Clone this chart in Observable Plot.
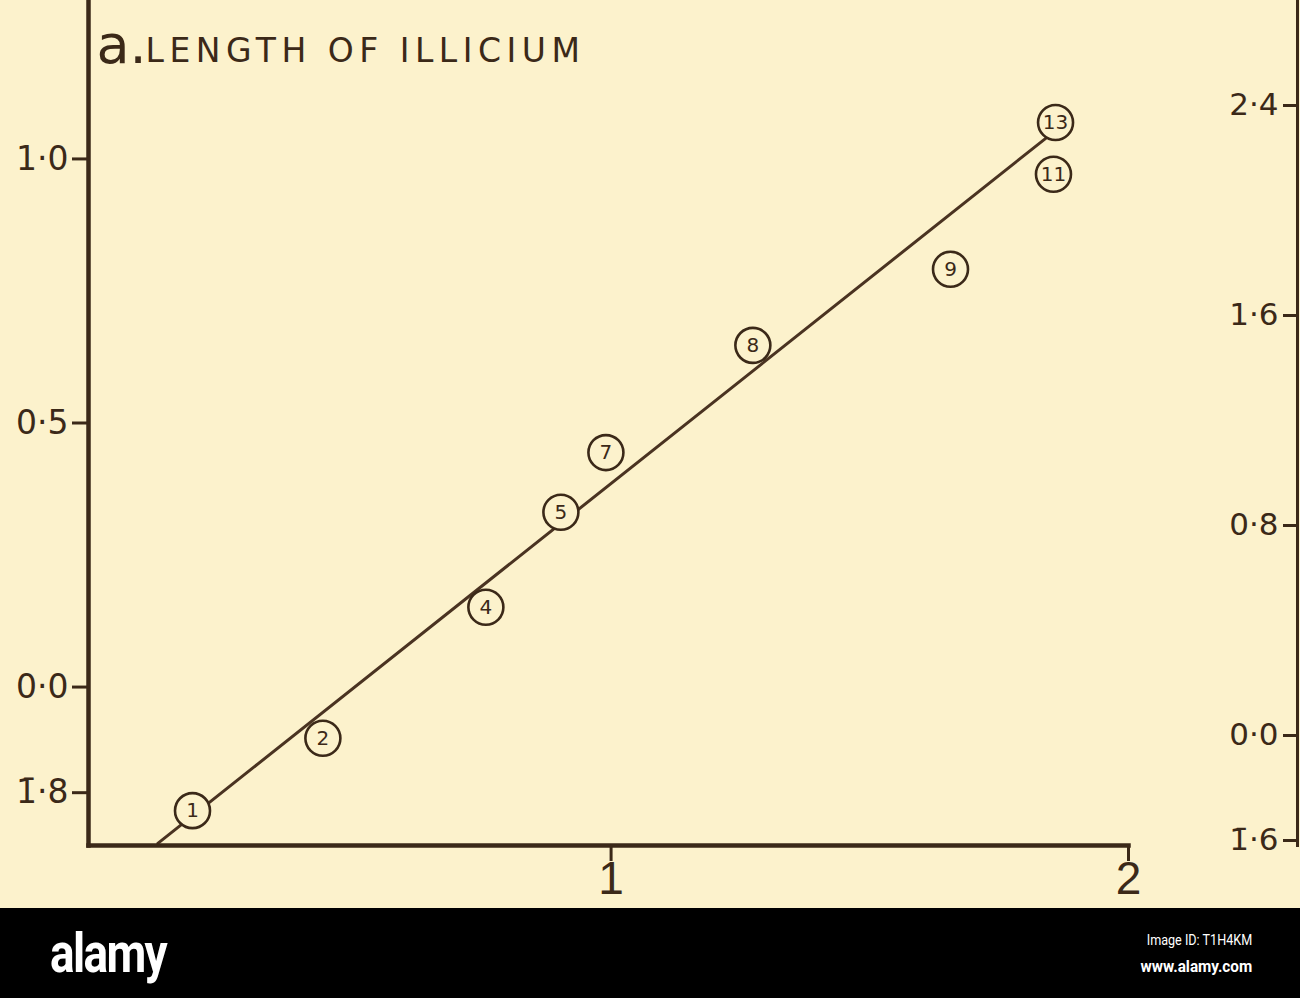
<!DOCTYPE html>
<html><head><meta charset="utf-8">
<script src="https://cdn.jsdelivr.net/npm/d3@7"></script>
<script src="https://cdn.jsdelivr.net/npm/@observablehq/plot@0.6"></script>
<style>
html,body{margin:0;padding:0;background:#fcf2cc;}
#wrap{display:flex;width:1300px;height:908px;overflow:hidden;background:#fcf2cc;}
#footer{width:1300px;height:90px;background:#000;position:relative;color:#fff;}
#logo{position:absolute;left:50px;top:12px;font:bold 56px "Roboto","Open Sans",sans-serif;letter-spacing:-2px;transform:scaleX(0.82);transform-origin:left top;}
#imgid{position:absolute;right:48px;top:24px;font:14px "Roboto","Open Sans",sans-serif;transform:scaleX(0.9);transform-origin:right top;}
#url{position:absolute;right:48px;top:48px;font:bold 17px "Roboto","Open Sans",sans-serif;transform:scaleX(0.9);transform-origin:right top;}
</style></head><body>
<div id="wrap"><div id="a"></div><div id="b"></div></div>
<div id="footer"><div id="logo">alamy</div><div id="imgid">Image ID: T1H4KM</div><div id="url">www.alamy.com</div></div>
<script>
// Panel a: specimens (circled numbers), log body length (x) vs log illicium length (y)
const specimens = ["1","2","4","5","7","8","9","11","13"];
const logBody = [0.191, 0.443, 0.758, 0.903, 0.990, 1.274, 1.656, 1.855, 1.859];
const logIllicium = [-0.234, -0.097, 0.151, 0.331, 0.444, 0.647, 0.791, 0.971, 1.069];
// fitted regression line end points
const fitX = [0.124, 1.840];
const fitY = [-0.296, 1.039];
// axis ticks & labels
const yTicksA = [1.0, 0.5, 0.0, -0.2];
const yLabelsA = ["1·0", "0·5", "0·0", "1\u0304·8"];
const xTicks = [1, 2];
const xLabels = ["1", "2"];
// panel b (cut off at right edge): only its axis is visible
const yTicksB = [2.4, 1.6, 0.8, 0.0, -0.4];
const yLabelsB = ["2·4", "1·6", "0·8", "0·0", "1\u0304·6"];

const bg = "#fcf2cc";
const ink = "#3b2918";
const font = "DejaVu Sans";

const pts = specimens.map((s, i) => ({s, x: logBody[i], y: logIllicium[i]}));
const fit = fitX.map((x, i) => ({x, y: fitY[i]}));
const mapA = new Map(yTicksA.map((t, i) => [t, yLabelsA[i]]));
const mapX = new Map(xTicks.map((t, i) => [t, xLabels[i]]));
const mapB = new Map(yTicksB.map((t, i) => [t, yLabelsB[i]]));

const A = Plot.plot({
  width: 1170, height: 908,
  marginLeft: 88, marginRight: 42, marginTop: 0, marginBottom: 63,
  style: {background: "transparent", color: ink, fontFamily: font},
  x: {domain: [-0.01, 2.0]},
  y: {domain: [-0.30, 1.30]},
  marks: [
    Plot.line(fit, {x: "x", y: "y", stroke: "#4a3321", strokeWidth: 3}),
    Plot.dot(pts, {x: "x", y: "y", r: 17.5, fill: bg, stroke: ink, strokeWidth: 2.6}),
    Plot.text(pts, {x: "x", y: "y", text: "s", fontSize: 20, fill: ink, fontFamily: "DejaVu Sans"}),
    Plot.frame({anchor: "left", stroke: ink, strokeWidth: 4.5}),
    Plot.frame({anchor: "bottom", stroke: ink, strokeWidth: 4.5}),
    Plot.axisY({ticks: yTicksA, tickFormat: d => mapA.get(d), tickSize: 16, tickPadding: 4,
      fontSize: 33, stroke: ink, strokeWidth: 3, fill: ink, label: null}),
    Plot.axisX({ticks: xTicks, tickFormat: d => mapX.get(d), tickSize: 16, tickPadding: 0,
      fontSize: 46, fontFamily: "Liberation Sans", stroke: ink, strokeWidth: 3, fill: ink, label: null}),
    Plot.text(["a."], {frameAnchor: "top-left", dx: 8, dy: 24, fontSize: 54, fill: ink}),
    Plot.text(["LENGTH OF ILLICIUM"], {frameAnchor: "top-left", dx: 57, dy: 38, fontSize: 33, fill: ink})
  ]
});
d3.select(A).selectAll("text").filter(function(){return this.textContent === "LENGTH OF ILLICIUM";})
  .attr("letter-spacing", "5.5px");
document.getElementById("a").appendChild(A);

const B = Plot.plot({
  width: 130, height: 908,
  marginLeft: 127, marginRight: 3, marginTop: 0, marginBottom: 63,
  style: {background: "transparent", color: ink, fontFamily: font},
  y: {domain: [-0.419, 2.8]},
  marks: [
    Plot.frame({anchor: "left", stroke: ink, strokeWidth: 3}),
    Plot.axisY({ticks: yTicksB, tickFormat: d => mapB.get(d), tickSize: 14, tickPadding: 5,
      fontSize: 31, stroke: ink, strokeWidth: 3, fill: ink, label: null})
  ]
});
document.getElementById("b").appendChild(B);
</script>
</body></html>
